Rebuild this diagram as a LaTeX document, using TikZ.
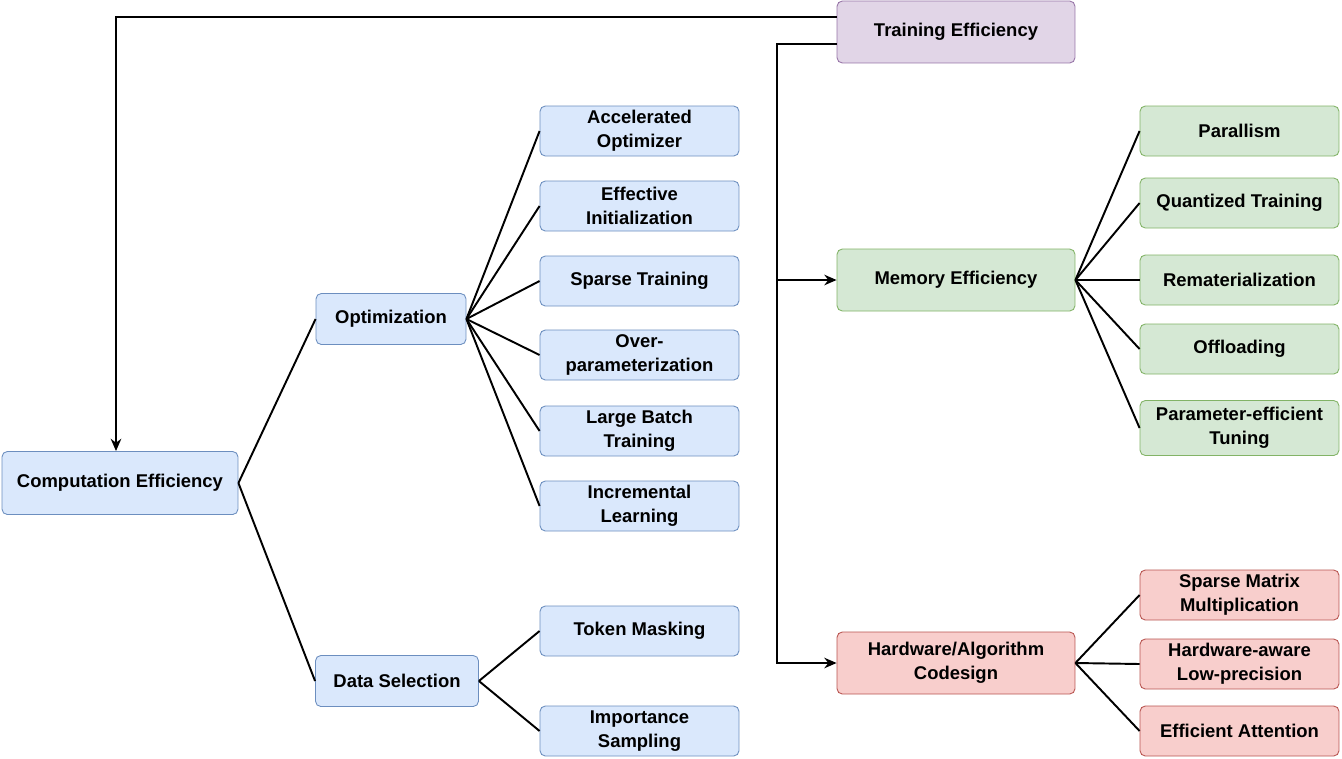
\documentclass[tikz,border=0pt]{standalone}
\usepackage{fontspec}
\setmainfont{Liberation Sans}
\usetikzlibrary{arrows.meta}
\definecolor{bfill}{HTML}{DAE8FC}\definecolor{bdraw}{HTML}{6C8EBF}
\definecolor{gfill}{HTML}{D5E8D4}\definecolor{gdraw}{HTML}{82B366}
\definecolor{rfill}{HTML}{F8CECC}\definecolor{rdraw}{HTML}{B85450}
\definecolor{pfill}{HTML}{E1D5E7}\definecolor{pdraw}{HTML}{9673A6}
\tikzset{
  box/.style={rectangle, rounded corners=3pt, line width=0.5pt, align=center,
    inner sep=0pt, font=\fontsize{10.5}{13.5}\selectfont\bfseries},
  blue/.style={box, fill=bfill, draw=bdraw},
  green/.style={box, fill=gfill, draw=gdraw},
  red/.style={box, fill=rfill, draw=rdraw},
  purple/.style={box, fill=pfill, draw=pdraw},
  leaf/.style={minimum width=3.98cm, minimum height=1cm},
  wide/.style={minimum width=4.76cm, minimum height=1.24cm},
  link/.style={line width=1.1pt},
  arr/.style={link, -{Stealth[length=7pt,width=6pt]}},
}
\begin{document}
\begin{tikzpicture}[x=0.02cm,y=-0.02cm]
\useasboundingbox (0,0) rectangle (1342,758);
% top level
\node[purple, wide] (train) at (956,32) {Training Efficiency};
\node[blue, minimum width=4.72cm, minimum height=1.26cm] (comp) at (120,483) {Computation Efficiency};
\node[green, wide] (mem) at (956,280) {Memory Efficiency};
\node[red, wide] (hw) at (956,663) {Hardware/Algorithm\\Codesign};
% computation branch
\node[blue, minimum width=3cm, minimum height=1.02cm] (opt) at (391,319) {Optimization};
\node[blue, minimum width=3.26cm, minimum height=1.02cm] (data) at (397,681) {Data Selection};
\node[blue, leaf] (o1) at (639.5,131) {Accelerated\\Optimizer};
\node[blue, leaf] (o2) at (639.5,206) {Effective\\Initialization};
\node[blue, leaf] (o3) at (639.5,281) {Sparse Training};
\node[blue, leaf] (o4) at (639.5,355) {Over-\\parameterization};
\node[blue, leaf] (o5) at (639.5,431) {Large Batch\\Training};
\node[blue, leaf] (o6) at (639.5,506) {Incremental\\Learning};
\node[blue, leaf] (d1) at (639.5,631) {Token Masking};
\node[blue, leaf] (d2) at (639.5,731) {Importance\\Sampling};
% memory branch
\node[green, leaf] (m1) at (1239.5,131) {Parallism};
\node[green, leaf] (m2) at (1239.5,203) {Quantized Training};
\node[green, leaf] (m3) at (1239.5,280) {Rematerialization};
\node[green, leaf] (m4) at (1239.5,349) {Offloading};
\node[green, leaf, minimum height=1.1cm] (m5) at (1239.5,428) {Parameter-efficient\\Tuning};
% hardware branch
\node[red, leaf] (h1) at (1239.5,595) {Sparse Matrix\\Multiplication};
\node[red, leaf] (h2) at (1239.5,664) {Hardware-aware\\Low-precision};
\node[red, leaf] (h3) at (1239.5,731) {Efficient Attention};
% connectors
\coordinate (tA) at (train.west |- 0,17);
\coordinate (tB) at (train.west |- 0,44);
\coordinate (bend) at (777,44);
\coordinate (fork) at (777,280);
\draw[arr] (tA) -| (comp.north -| 116,0);
\draw[arr] (tB) -- (bend) |- (hw.west);
\draw[arr] (fork) -- (mem.west);
\foreach \t in {opt,data} \draw[link] (comp.east) -- (\t.west);
\foreach \t in {o1,o2,o3,o4,o5,o6} \draw[link] (opt.east) -- (\t.west);
\foreach \t in {d1,d2} \draw[link] (data.east) -- (\t.west);
\foreach \t in {m1,m2,m3,m4,m5} \draw[link] (mem.east) -- (\t.west);
\foreach \t in {h1,h2,h3} \draw[link] (hw.east) -- (\t.west);
\end{tikzpicture}
\end{document}
